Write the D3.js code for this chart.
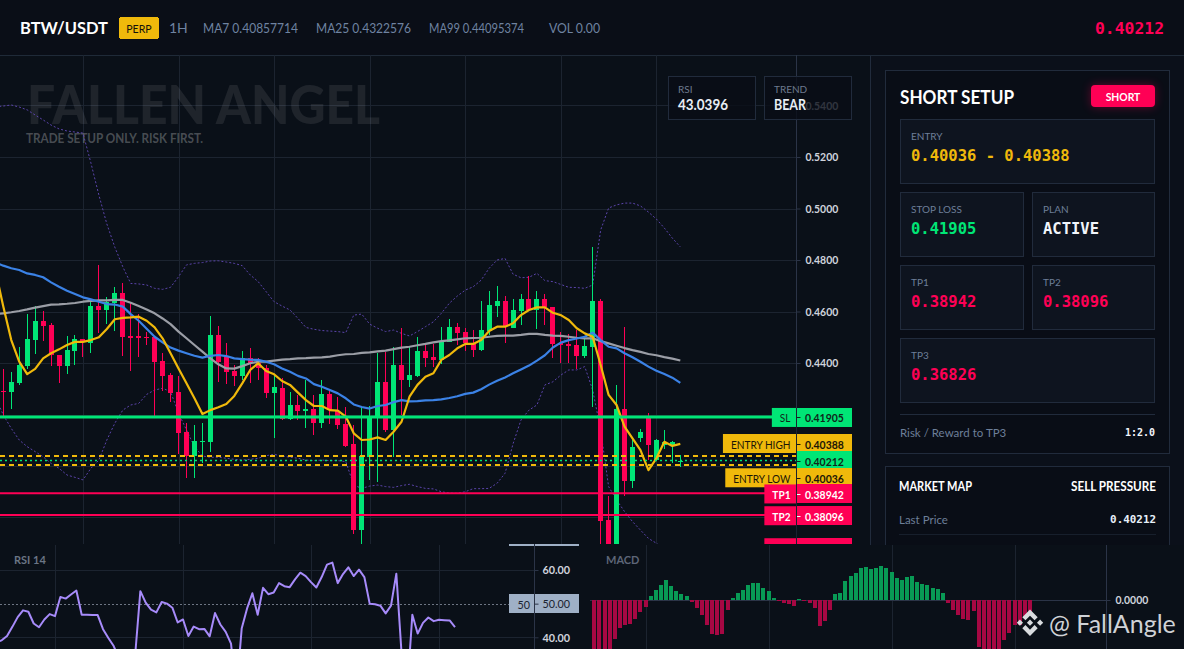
<!DOCTYPE html>
<html>
<head>
<meta charset="utf-8">
<style>
html,body{margin:0;padding:0;background:#0a1018;overflow:hidden}
svg{display:block}
text{font-family:Lato,'Noto Sans',sans-serif}
.mono{font-family:'DejaVu Sans Mono',monospace;font-weight:700}
</style>
<script src="https://cdn.jsdelivr.net/npm/d3@7"></script>
</head>
<body>
<svg id="chart" width="1184" height="649"></svg>
<script>
'use strict';

var opens=[.4291,.4287,.4322,.4388,.4489,.4563,.4548,.4431,.4388,.4447,
    .4493,.4478,.4621,.4606,.4633,.4672,.4505,.4505,.4501,.4501,
    .4408,.4353,.4287,.4132,.4039,.4093,.4093,.4509,.4423,.4369,
    .4350,.4419,.4400,.4380,.4283,.4303,.4183,.4237,.4214,.4221,
    .4167,.4280,.4214,.4163,.4085,.3751,.4035,.4186,.4326,.4140,
    .4392,.4334,.4350,.4447,.4423,.4412,.4482,.4540,.4520,.4478,
    .4450,.4524,.4621,.4641,.4536,.4602,.4649,.4606,.4649,.4617,
    .4478,.4474,.4470,.4427,.4462,.4641,.3790,.3620,.4221,.3942,
    .4109,.4194,.4023,.4082,.4082,.4021];
var closes=[.4287,.4326,.4392,.4493,.4563,.4544,.4431,.4388,.4450,.4493,
    .4482,.4621,.4606,.4637,.4672,.4501,.4497,.4497,.4497,.4404,
    .4350,.4283,.4128,.4039,.4097,.4097,.4509,.4404,.4365,.4350,
    .4419,.4400,.4380,.4283,.4307,.4183,.4237,.4214,.4221,.4167,
    .4280,.4217,.4159,.4078,.3751,.4039,.4186,.4326,.4140,.4392,
    .4334,.4353,.4447,.4419,.4412,.4482,.4540,.4516,.4478,.4450,
    .4528,.4625,.4641,.4544,.4606,.4649,.4606,.4649,.4617,.4474,
    .4470,.4466,.4427,.4466,.4641,.3786,.3620,.4221,.3942,.4074,
    .4132,.4082,.4101,.4093,.4093,.40212];
var highs=[.4377,.4365,.4462,.4590,.4621,.4602,.4555,.4431,.4505,.4509,
    .4493,.4645,.4781,.4656,.4695,.4711,.4637,.4590,.4520,.4501,
    .4439,.4361,.4350,.4167,.4159,.4167,.4583,.4544,.4478,.4392,
    .4447,.4458,.4419,.4392,.4357,.4342,.4287,.4276,.4334,.4276,
    .4334,.4291,.4268,.4229,.4159,.4233,.4233,.4439,.4443,.4462,
    .4536,.4462,.4501,.4470,.4474,.4540,.4571,.4555,.4536,.4528,
    .4641,.4680,.4699,.4660,.4649,.4668,.4738,.4680,.4668,.4617,
    .4520,.4513,.4528,.4501,.4851,.4649,.3883,.4315,.4540,.4101,
    .4144,.4206,.4105,.4140,.4097,.4043];
var lows=[.4185,.4221,.4315,.4377,.4435,.4485,.4388,.4322,.4357,.4392,
    .4423,.4439,.4516,.4551,.4524,.4427,.4369,.4423,.4470,.4190,
    .4291,.4248,.4047,.3953,.3953,.4012,.4054,.4326,.4318,.4311,
    .4334,.4322,.4334,.4264,.4109,.4179,.4179,.4179,.4148,.4120,
    .4148,.4163,.4144,.4074,.3736,.3697,.3946,.3938,.4132,.4035,
    .4198,.4307,.4346,.4384,.4384,.4396,.4482,.4470,.4447,.4423,
    .4447,.4509,.4579,.4478,.4536,.4548,.4606,.4532,.4548,.4419,
    .4400,.4400,.4377,.4419,.4229,.3650,.3600,.3600,.3883,.3915,
    .4093,.4023,.4023,.4066,.4012,.3996];

// overlay series start one bar before the first visible candle
var ma7=[.4761,.4619,.4489,.4405,.4357,.4377,.4418,.4438,.4453,.4470,.4482,
    .4482,.4489,.4500,.4532,.4570,.4575,.4577,.4580,.4564,.4538,
    .4496,.4438,.4379,.4321,.4263,.4202,.4217,.4228,.4241,.4272,
    .4321,.4373,.4399,.4369,.4356,.4330,.4315,.4285,.4256,.4233,
    .4233,.4217,.4215,.4192,.4127,.4101,.4103,.4111,.4101,.4133,
    .4172,.4269,.4315,.4347,.4360,.4412,.4431,.4457,.4474,.4474,
    .4489,.4524,.4541,.4541,.4554,.4586,.4606,.4616,.4616,.4595,
    .4586,.4567,.4535,.4515,.4502,.4392,.4276,.4237,.4153,.4107,
    .4062,.3984,.4030,.4094,.4078,.40857714];
var ma25=[.4790,.4778,.4768,.4761,.4748,.4742,.4733,.4713,.4696,.4681,.4668,
    .4655,.4647,.4638,.4629,.4627,.4619,.4590,.4564,.4533,.4502,
    .4480,.4460,.4448,.4438,.4428,.4421,.4428,.4431,.4427,.4418,
    .4415,.4413,.4412,.4405,.4395,.4379,.4366,.4350,.4340,.4318,
    .4308,.4295,.4282,.4263,.4239,.4229,.4223,.4233,.4237,.4248,
    .4256,.4251,.4252,.4255,.4256,.4259,.4264,.4271,.4280,.4285,
    .4298,.4316,.4331,.4344,.4360,.4375,.4390,.4409,.4430,.4460,
    .4479,.4489,.4495,.4502,.4518,.4489,.4463,.4457,.4438,.4422,
    .4405,.4386,.4370,.4357,.4343,.4322576];
var ma99=[.4589,.4593,.4597,.4602,.4608,.4615,.4621,.4627,.4628,.4630,.4633,
    .4638,.4641,.4643,.4643,.4645,.4645,.4634,.4621,.4608,.4593,
    .4573,.4551,.4522,.4496,.4470,.4444,.4418,.4395,.4379,.4378,
    .4388,.4399,.4405,.4405,.4409,.4413,.4415,.4418,.4419,.4421,
    .4422,.4425,.4430,.4434,.4435,.4439,.4441,.4445,.4448,.4454,
    .4460,.4463,.4469,.4474,.4480,.4485,.4488,.4492,.4496,.4497,
    .4498,.4502,.4505,.4506,.4506,.4509,.4513,.4513,.4509,.4506,
    .4505,.4502,.4498,.4496,.4496,.4485,.4476,.4467,.4458,.4450,
    .4443,.4435,.4430,.4423,.4417,.44095374];
var bbUpper=[.5395,.5398,.5402,.5394,.5383,.5363,.5344,.5324,.5309,.5301,.5297,
    .5293,.5177,.5052,.4940,.4850,.4774,.4709,.4707,.4703,.4690,
    .4686,.4694,.4735,.4781,.4787,.4790,.4796,.4797,.4792,.4787,
    .4778,.4742,.4716,.4677,.4638,.4621,.4606,.4573,.4538,.4531,
    .4526,.4524,.4522,.4518,.4586,.4590,.4551,.4535,.4522,.4528,
    .4515,.4505,.4522,.4541,.4560,.4593,.4632,.4660,.4683,.4696,
    .4722,.4768,.4800,.4806,.4745,.4731,.4733,.4748,.4720,.4716,
    .4705,.4694,.4693,.4690,.4703,.4916,.5002,.5014,.5021,.5021,
    .5010,.4986,.4959,.4924,.4885,.4851];
var bbLower=[.4269,.4198,.4146,.4101,.4075,.4056,.4036,.4010,.3991,.3965,.3956,
    .3946,.3991,.4023,.4101,.4166,.4217,.4237,.4243,.4278,.4295,
    .4302,.4289,.4205,.4140,.4075,.4039,.4034,.4034,.4030,.4026,
    .4023,.4026,.4030,.4040,.4045,.4039,.4034,.4030,.4023,.4021,
    .4023,.4021,.4021,.4017,.3926,.3913,.3922,.3926,.3920,.3917,
    .3924,.3929,.3920,.3913,.3911,.3900,.3895,.3894,.3900,.3912,
    .3912,.3913,.3933,.3972,.4086,.4179,.4217,.4237,.4315,.4327,
    .4353,.4373,.4373,.4386,.4295,.4140,.3920,.3868,.3823,.3784,
    .3751,.3719,.3700,.3674,.3648,.3622];

var rsiValues=[38.6,39.1,40.4,43.1,46.0,48.0,47.6,44.1,43.0,45.3,46.9,
    46.3,52.0,51.5,52.7,53.9,46.7,46.7,46.6,46.6,42.4,
    39.8,37.4,33.7,29.7,28.7,34.2,53.7,50.3,48.2,47.4,
    50.5,50.0,48.8,44.4,45.3,40.4,43.2,42.4,42.5,40.3,
    47.2,43.8,41.6,38.1,23.3,42.6,48.5,53.1,46.7,54.7,
    52.8,53.3,56.1,55.2,54.9,57.2,59.2,58.2,56.4,54.8,
    57.9,61.6,62.2,56.1,58.8,60.8,58.2,60.1,57.9,50.0,
    49.8,49.4,47.1,49.4,58.9,34.7,23.2,46.7,41.1,44.3,
    45.9,44.8,45.2,45.1,45.0,43.04];
var macdHist=[-.0067,-.0067,-.0060,-.0050,-.0039,-.0028,-.0025,-.0024,-.0019,-.0012,
    -.0007,.0004,.0010,.0015,.0020,.0014,.0009,.0006,.0004,-.0002,
    -.0008,-.0015,-.0025,-.0034,-.0035,-.0034,-.0010,.0002,.0007,.0010,
    .0015,.0017,.0017,.0012,.0009,.0002,-.0001,-.0003,-.0004,-.0006,
    .0001,-.0001,-.0003,-.0008,-.0026,-.0021,-.0010,.0006,.0007,.0019,
    .0024,.0027,.0032,.0033,.0031,.0032,.0034,.0032,.0028,.0022,
    .0020,.0023,.0024,.0018,.0016,.0015,.0012,.0011,.0007,-.0003,
    -.0010,-.0015,-.0019,-.0020,-.0011,-.0047,-.0057,-.0060,-.0057,-.0053,
    -.0040,-.0033,-.0025,-.0025,-.0017,-.0013];

var priceGrid=[.54,.52,.50,.48,.46,.44,.42,.40,.38];
var priceTicks=[.54,.52,.50,.48,.46,.44];
var rsiTicks=[40,50,60];
var lastPrice=.40212;
var stopLoss=.41905;
var entryHigh=.40388;
var entryLow=.40036;
var takeProfits=[.38942,.38096,.36826];
var headerStats=['MA7 0.40857714','MA25 0.4322576','MA99 0.44095374','VOL 0.00'];
var cardLabels=['STOP LOSS','PLAN','TP1','TP2','TP3'];
var cardValues=['0.41905','ACTIVE','0.38942','0.38096','0.36826'];

var W=1184, H=649
  , green='#00e676', red='#ff0055', yellow='#f0b90b'
  , gridc='#1c2430', axisc='#2b3447', panel='#0b101a', card='#090d16', inner='#0e141f', border='#212b3c'
  , n=closes.length

var svg=d3.select('#chart');
var defs=svg.append('defs');

function clip(id,x,y,w,h){
    defs.append('clipPath').attr('id',id).append('rect')
        .attr('x',x).attr('y',y).attr('width',w).attr('height',h);
}
clip('clip-main',0,55,870,489);
clip('clip-rsi',0,544,590,105);
clip('clip-macd',590,545,594,104);

// Lato runs wider than the chart's font, so tighten text horizontally
function squeeze(sel,f){
    sel.each(function(){
        d3.select(this)
            .attr('textLength',this.getComputedTextLength()*f)
            .attr('lengthAdjust','spacingAndGlyphs');
    });
}
function txt(g,x,y,s,size,fill,o){
    o=o||{};
    var t=g.append('text')
        .attr('class',o.mono?'mono':null)
        .attr('x',x)
        .attr('y',y)
        .attr('dominant-baseline','central')
        .attr('text-anchor',o.anchor||'start')
        .attr('font-size',size)
        .attr('font-weight',o.weight||400)
        .attr('fill',fill)
        .text(s);
    if(o.fit){squeeze(t,o.fit);}
    if(o.len){t.attr('textLength',o.len).attr('lengthAdjust','spacingAndGlyphs');}
    return t;
}
function box(g,x,y,w,h,fill,stroke,rx){
    return g.append('rect')
        .attr('x',x).attr('y',y).attr('width',w).attr('height',h)
        .attr('rx',rx||0)
        .attr('fill',fill)
        .attr('stroke',stroke||'none')
        .attr('shape-rendering','crispEdges');
}

svg.append('rect').attr('width',W).attr('height',H).attr('fill','#0a1018');

// header
var head=svg.append('g');
box(head,0,0,W,55,'#0a0e17');
head.append('line').attr('x1',0).attr('x2',W).attr('y1',55.5).attr('y2',55.5).attr('stroke','#1f2a38');
txt(head,20,27.5,'BTW/USDT',17,'#fff',{weight:700,len:88});
box(head,119,17,40,22,yellow,null,3);
txt(head,139,28,'PERP',12,'#16120a',{anchor:'middle',fit:.88});
txt(head,169,27,'1H',14,'#6f83a1');
headerStats.forEach(function(s,i){
    txt(head,[203,316,429,549][i],27.5,s,13,'#6f83a1',{len:[95,95,95,51][i]});
});
txt(head,1164,28,d3.format('.5f')(lastPrice),16.4,red,{mono:1,anchor:'end'});

// main price pane
var x=d3.scaleLinear().domain([0,n-1]).range([3.3,680.3]);
var y=d3.scaleLinear().domain([.44,.52]).range([363,157]);
var main=svg.append('g').attr('clip-path','url(#clip-main)');

main.selectAll('line.gy').data(priceGrid).enter().append('line')
    .attr('class','gy')
    .attr('x1',0).attr('x2',796)
    .attr('y1',function(d){return Math.round(y(d))+.5;})
    .attr('y2',function(d){return Math.round(y(d))+.5;})
    .attr('stroke',gridc);
main.selectAll('line.gx').data(d3.range(10,n,12)).enter().append('line')
    .attr('class','gx')
    .attr('y1',55).attr('y2',544)
    .attr('x1',function(d){return Math.round(x(d))+.5;})
    .attr('x2',function(d){return Math.round(x(d))+.5;})
    .attr('stroke',gridc);

txt(main,27,103,'FALLEN ANGEL',54,'rgba(255,255,255,.085)',{weight:900,len:353});
txt(main,26,137.5,'TRADE SETUP ONLY. RISK FIRST.',13,'rgba(255,255,255,.26)',{weight:700,len:177});

var lineOf=function(arr){
    return d3.line().x(function(d,i){return x(i-1);}).y(function(d){return y(d);})(arr);
};
[bbUpper,bbLower].forEach(function(a){
    main.append('path').attr('d',lineOf(a))
        .attr('fill','none')
        .attr('stroke','#5b44ab')
        .attr('stroke-width',1)
        .attr('stroke-dasharray','2,2');
});

var candle=main.selectAll('g.c').data(d3.range(n)).enter().append('g')
    .attr('class','c')
    .attr('fill',function(i){return closes[i]>=opens[i]?green:red;})
    .attr('shape-rendering','crispEdges');
candle.append('rect')
    .attr('x',function(i){return Math.round(x(i)-.5);})
    .attr('width',1)
    .attr('y',function(i){return y(highs[i]);})
    .attr('height',function(i){return y(lows[i])-y(highs[i]);});
candle.append('rect')
    .attr('x',function(i){return Math.round(x(i)-2.5);})
    .attr('width',5)
    .attr('y',function(i){return y(Math.max(opens[i],closes[i]));})
    .attr('height',function(i){return Math.max(1,Math.abs(y(opens[i])-y(closes[i])));});

[[ma99,'#9b9ea6'],[ma25,'#3b82e6'],[ma7,yellow]].forEach(function(m){
    main.append('path').attr('d',lineOf(m[0]))
        .attr('fill','none')
        .attr('stroke',m[1])
        .attr('stroke-width',2.2)
        .attr('stroke-linejoin','round');
});

function priceLine(p,color,w,dash){
    main.append('line')
        .attr('x1',0).attr('x2',796)
        .attr('y1',y(p)).attr('y2',y(p))
        .attr('stroke',color)
        .attr('stroke-width',w)
        .attr('stroke-dasharray',dash||null);
}
priceLine(stopLoss,green,3);
priceLine(entryHigh,yellow,2,'5,4');
priceLine(entryLow,yellow,2,'5,4');
priceLine(lastPrice,green,1.5,'2,3');
takeProfits.forEach(function(p){priceLine(p,red,2);});

// right price axis
var priceAxis=d3.axisRight(y).tickValues(priceTicks).tickSize(4).tickPadding(5).tickFormat(d3.format('.4f'));
var axisG=svg.append('g').attr('transform','translate(796.5,0)').call(priceAxis);
axisG.select('.domain').remove();
axisG.selectAll('line').attr('stroke',axisc);
axisG.selectAll('text').attr('font-size',12).attr('font-family','Lato').attr('fill','#cfd3dc').attr('font-weight',700);
squeeze(axisG.selectAll('text'),.87);
svg.append('line').attr('x1',796.5).attr('x2',796.5).attr('y1',55).attr('y2',544).attr('stroke',axisc);

// price tags: the two entry tags sit pushed away from the live price tag
var tags=[
    {label:'SL',p:stopLoss,bg:green,fg:'#10261b',dy:.5},
    {label:'ENTRY HIGH',p:entryHigh,bg:yellow,fg:'#1c1606',dy:-12.5},
    {label:null,p:lastPrice,bg:green,fg:'#10261b',dy:0},
    {label:'ENTRY LOW',p:entryLow,bg:yellow,fg:'#1c1606',dy:12.7},
    {label:'TP1',p:takeProfits[0],bg:red,fg:'#fff',dy:.7},
    {label:'TP2',p:takeProfits[1],bg:red,fg:'#fff',dy:.7},
    {label:'TP3',p:takeProfits[2],bg:red,fg:'#fff',dy:0}
];
var tagLayer=svg.append('g').attr('clip-path','url(#clip-main)');
tags.forEach(function(t){
    var cy=y(t.p)+t.dy, g=tagLayer.append('g'), strong=t.bg===red;
    if(t.label){
        var tl=txt(g,790.5,cy+.5,t.label,12,t.fg,{anchor:'end',weight:strong?700:400,fit:.84});
        var left=790.5-(+tl.attr('textLength'))-8;
        g.insert('rect','text')
            .attr('x',left).attr('y',cy-9.5).attr('width',796-left).attr('height',19)
            .attr('fill',t.bg);
    }
    box(g,796,cy-9.5,56,19,t.bg);
    txt(g,805,cy+.5,d3.format('.5f')(t.p),12,t.fg,{weight:700,fit:.87});
    g.append('line').attr('x1',796.5).attr('x2',800.5).attr('y1',Math.round(cy)+.5).attr('y2',Math.round(cy)+.5).attr('stroke',t.fg);
});
svg.append('line').attr('x1',796.5).attr('x2',796.5).attr('y1',408).attr('y2',544).attr('stroke','#1a2230');

// floating stat cards
var cards=svg.append('g');
box(cards,668.5,76.5,87,43,'rgba(9,13,22,.8)',border);
box(cards,764.5,76.5,87,43,'rgba(9,13,22,.8)',border);
txt(cards,678,89,'RSI',10,'#6d7a8e');
txt(cards,678,104.5,'43.0396',14.5,'#e8edf4',{weight:700,len:50});
txt(cards,774,89,'TREND',10,'#6d7a8e');
txt(cards,774,104.5,'BEAR',14.5,'#e8edf4',{weight:700,len:32});

// setup panel
var side=svg.append('g');
box(side,870,56,314,489,panel);
side.append('line').attr('x1',870.5).attr('x2',870.5).attr('y1',56).attr('y2',545).attr('stroke',border);
box(side,885.5,70.5,284,383,card,border);
txt(side,900,97,'SHORT SETUP',18.5,'#fff',{weight:700,len:114});
var glow=defs.append('filter').attr('id','glow').attr('x','-40%').attr('y','-80%').attr('width','180%').attr('height','260%');
glow.append('feGaussianBlur').attr('stdDeviation',5);
side.append('rect').attr('x',1091).attr('y',85).attr('width',64).attr('height',22).attr('rx',4)
    .attr('fill',red).attr('opacity',.35).attr('filter','url(#glow)');
side.append('rect').attr('x',1091).attr('y',85).attr('width',64).attr('height',22).attr('rx',4).attr('fill',red);
txt(side,1123,96.5,'SHORT',11.5,'#fff',{anchor:'middle',weight:700,fit:.9});

box(side,900.5,119.5,254,64,inner,border);
txt(side,911,135.5,'ENTRY',10,'#6d7f99');
txt(side,911,155.5,d3.format('.5f')(entryLow)+' - '+d3.format('.5f')(entryHigh),15.5,yellow,{mono:1});

var slots=[[900.5,192.5,123],[1032.5,192.5,122],[900.5,265.5,123],[1032.5,265.5,122],[900.5,338.5,254]]
  , valueColors=[green,'#f2f6fb',red,red,red];
cardLabels.forEach(function(l,i){
    var s=slots[i];
    box(side,s[0],s[1],s[2],64,inner,border);
    txt(side,s[0]+10.5,s[1]+16,l,10,'#6d7f99');
    txt(side,s[0]+10.5,s[1]+36,cardValues[i],15.5,valueColors[i],{mono:1});
});
side.append('line').attr('x1',900).attr('x2',1155).attr('y1',414.5).attr('y2',414.5).attr('stroke',border);
txt(side,900,432,'Risk / Reward to TP3',11.5,'#6d7f99');
txt(side,1155,432,'1:2.0',10,'#f2f6fb',{mono:1,anchor:'end'});

box(side,885.5,466.5,284,90,card,border);
txt(side,899,486.5,'MARKET MAP',12.5,'#fff',{weight:700,len:73});
txt(side,1156,486.5,'SELL PRESSURE',12.5,'#fff',{weight:700,anchor:'end',len:85});
txt(side,899,519,'Last Price',11.5,'#6d7f99');
txt(side,1156,519,d3.format('.5f')(lastPrice),10.9,'#e8f0fa',{mono:1,anchor:'end'});
side.append('line').attr('x1',899).attr('x2',1156).attr('y1',534.5).attr('y2',534.5).attr('stroke','#171f2c');

// RSI pane
var xr=d3.scaleLinear().domain([0,n-1]).range([1.7,455]);
var yr=d3.scaleLinear().domain([40,60]).range([637.3,570]);
var rsi=svg.append('g').attr('clip-path','url(#clip-rsi)');
box(rsi,0,544,590,105,'#0a1018');
rsi.selectAll('line.gy').data(rsiTicks).enter().append('line')
    .attr('x1',0).attr('x2',534)
    .attr('y1',function(d){return Math.round(yr(d))+.5;})
    .attr('y2',function(d){return Math.round(yr(d))+.5;})
    .attr('stroke',function(d){return d===50?'#6d7583':gridc;})
    .attr('stroke-dasharray',function(d){return d===50?'2,2':null;});
rsi.selectAll('line.gx').data(d3.range(10,n,24)).enter().append('line')
    .attr('y1',545).attr('y2',H)
    .attr('x1',function(d){return Math.round(xr(d))+.5;})
    .attr('x2',function(d){return Math.round(xr(d))+.5;})
    .attr('stroke',gridc);
txt(rsi,14,559,'RSI 14',11,'#6a7585',{weight:700});
rsi.append('path')
    .attr('d',d3.line().x(function(d,i){return xr(i-1);}).y(function(d){return yr(d);})(rsiValues))
    .attr('fill','none')
    .attr('stroke','#a78bfa')
    .attr('stroke-width',2)
    .attr('stroke-linejoin','round');

[50,70].forEach(function(v){
    box(rsi,509,yr(v)-9.5,70,19,'#9fb0c6');
    if(v===50){txt(rsi,530,yr(v)+.5,'50',12,'#1b2330',{anchor:'end',fit:.9});}
});
rsi.append('line').attr('x1',534.5).attr('x2',534.5).attr('y1',544).attr('y2',H).attr('stroke',axisc);
var rsiAxis=d3.axisRight(yr).tickValues(rsiTicks).tickSize(4).tickPadding(4).tickFormat(d3.format('.2f'));
var rsiAxisG=rsi.append('g').attr('transform','translate(534.5,0)').call(rsiAxis);
rsiAxisG.select('.domain').remove();
rsiAxisG.selectAll('line').attr('stroke',axisc);
rsiAxisG.selectAll('text').attr('font-size',12).attr('font-family','Lato')
    .attr('font-weight',function(d){return d===50?400:700;})
    .attr('fill',function(d){return d===50?'#1b2330':'#cfd3dc';});
squeeze(rsiAxisG.selectAll('text'),.9);

// MACD pane
var xm=d3.scaleLinear().domain([0,n-1]).range([594.3,1030]);
var ym=d3.scaleLinear().domain([-.01,.01]).range([700,500]);
var macd=svg.append('g').attr('clip-path','url(#clip-macd)');
box(macd,590,545,594,104,'#0a1018');
macd.selectAll('line.gx').data(d3.range(10,n,24)).enter().append('line')
    .attr('y1',545).attr('y2',H)
    .attr('x1',function(d){return Math.round(xm(d))+.5;})
    .attr('x2',function(d){return Math.round(xm(d))+.5;})
    .attr('stroke',gridc);
macd.append('line').attr('x1',590).attr('x2',1106).attr('y1',ym(0)+.5).attr('y2',ym(0)+.5).attr('stroke',axisc);
macd.selectAll('rect.h').data(macdHist).enter().append('rect')
    .attr('class','h')
    .attr('x',function(d,i){return Math.round(xm(i)-2);})
    .attr('width',4)
    .attr('y',function(d){return d>0?ym(d):ym(0);})
    .attr('height',function(d){return Math.abs(ym(d)-ym(0));})
    .attr('fill',function(d){return d>0?'#089a55':'#a60843';})
    .attr('shape-rendering','crispEdges');
macd.append('line').attr('x1',1106.5).attr('x2',1106.5).attr('y1',545).attr('y2',H).attr('stroke',axisc);
var macdAxis=d3.axisRight(ym).tickValues([0]).tickSize(4).tickPadding(5).tickFormat(d3.format('.4f'));
var macdAxisG=macd.append('g').attr('transform','translate(1106.5,0)').call(macdAxis);
macdAxisG.select('.domain').remove();
macdAxisG.selectAll('line').attr('stroke',axisc);
macdAxisG.selectAll('text').attr('font-size',12).attr('font-family','Lato').attr('font-weight',700).attr('fill','#cfd3dc');
squeeze(macdAxisG.selectAll('text'),.87);
txt(macd,606,559,'MACD',11,'#5d6577',{weight:700});

// channel mark over the video frame
var mark=svg.append('g').attr('transform','translate(1030,622.7) scale(1.2)').attr('fill','#d9dcdf');
['M0-2.6 2.6 0 0 2.6-2.6 0Z',
 'M0-11 6.4-4.6 3.8-2 0-5.8-3.8-2-6.4-4.6Z',
 'M0 11 6.4 4.6 3.8 2 0 5.8-3.8 2-6.4 4.6Z',
 'M-8.4-2.6-5.8 0-8.4 2.6-11 0Z',
 'M8.4-2.6 11 0 8.4 2.6 5.8 0Z'].forEach(function(d){
    mark.append('path').attr('d',d);
});
svg.append('text').attr('x',1049).attr('y',633)
    .attr('font-size',25)
    .attr('font-family','Noto Sans')
    .attr('fill','#cfd2d6')
    .text('@ FallAngle');
</script>
</body>
</html>
